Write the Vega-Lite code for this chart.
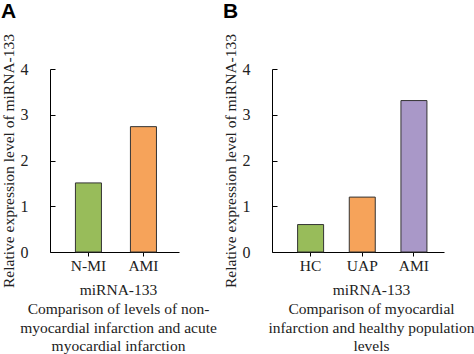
{
  "$schema": "https://vega.github.io/schema/vega-lite/v6.json",
  "padding": {"left": 0, "top": 0, "right": 0, "bottom": 0},
  "background": "white",
  "datasets": {
    "a": [{"group": "N-MI", "value": 1.51}, {"group": "AMI", "value": 2.74}],
    "b": [{"group": "HC", "value": 0.6}, {"group": "UAP", "value": 1.2}, {"group": "AMI", "value": 3.31}]
  },
  "spacing": 5,
  "resolve": {"scale": {"color": "independent"}},
  "config": {
    "view": {"stroke": null},
    "bar": {"stroke": "#333333", "strokeWidth": 1},
    "title": {"font": "Liberation Sans", "fontWeight": "bold", "fontSize": 21, "color": "black", "anchor": "start", "frame": "bounds", "offset": 12},
    "axisY": {"domainColor": "black", "tickColor": "black", "tickSize": -5, "labelPadding": 27, "grid": false, "labelFont": "Liberation Serif", "labelFontSize": 16, "labelColor": "#222222", "titleFont": "Liberation Serif", "titleFontSize": 15.5, "titleFontWeight": "normal", "titleColor": "#222222", "titlePadding": 4, "values": [0, 1, 2, 3, 4]},
    "axisX": {"domainColor": "black", "tickColor": "black", "tickSize": 4, "labelPadding": 2, "labelAngle": 0, "grid": false, "labelFont": "Liberation Serif", "labelFontSize": 15.5, "labelColor": "#222222", "titleFont": "Liberation Serif", "titleFontSize": 15.5, "titleFontWeight": "normal", "titleColor": "#222222", "titleLineHeight": 18.8, "titlePadding": 9}
  },
  "hconcat": [
    {
      "title": {"text": "A"},
      "width": 129,
      "height": 183,
      "data": {"name": "a"},
      "mark": "bar",
      "encoding": {
        "x": {"field": "group", "type": "nominal", "sort": ["N-MI", "AMI"], "scale": {"paddingInner": 0.527, "paddingOuter": 0.436, "align": 0.53},
          "axis": {"title": ["miRNA-133", "Comparison of levels of non-", "myocardial infarction and acute", "myocardial infarction"], "titleX": 68}},
        "y": {"field": "value", "type": "quantitative", "scale": {"domain": [0, 4], "nice": false}, "axis": {"title": "Relative expression level of miRNA-133"}},
        "color": {"field": "group", "type": "nominal", "legend": null, "scale": {"domain": ["N-MI", "AMI"], "range": ["#98bc5a", "#f6a35a"]}}
      }
    },
    {
      "title": {"text": "B"},
      "width": 172,
      "height": 183,
      "data": {"name": "b"},
      "mark": "bar",
      "encoding": {
        "x": {"field": "group", "type": "nominal", "sort": ["HC", "UAP", "AMI"], "scale": {"paddingInner": 0.497, "paddingOuter": 0.413, "align": 0.6},
          "axis": {"title": ["miRNA-133", "Comparison of myocardial", "infarction and healthy population", "levels"], "titleX": 99}},
        "y": {"field": "value", "type": "quantitative", "scale": {"domain": [0, 4], "nice": false}, "axis": {"title": "Relative expression level of miRNA-133"}},
        "color": {"field": "group", "type": "nominal", "legend": null, "scale": {"domain": ["HC", "UAP", "AMI"], "range": ["#98bc5a", "#f6a35a", "#a998c8"]}}
      }
    }
  ]
}
